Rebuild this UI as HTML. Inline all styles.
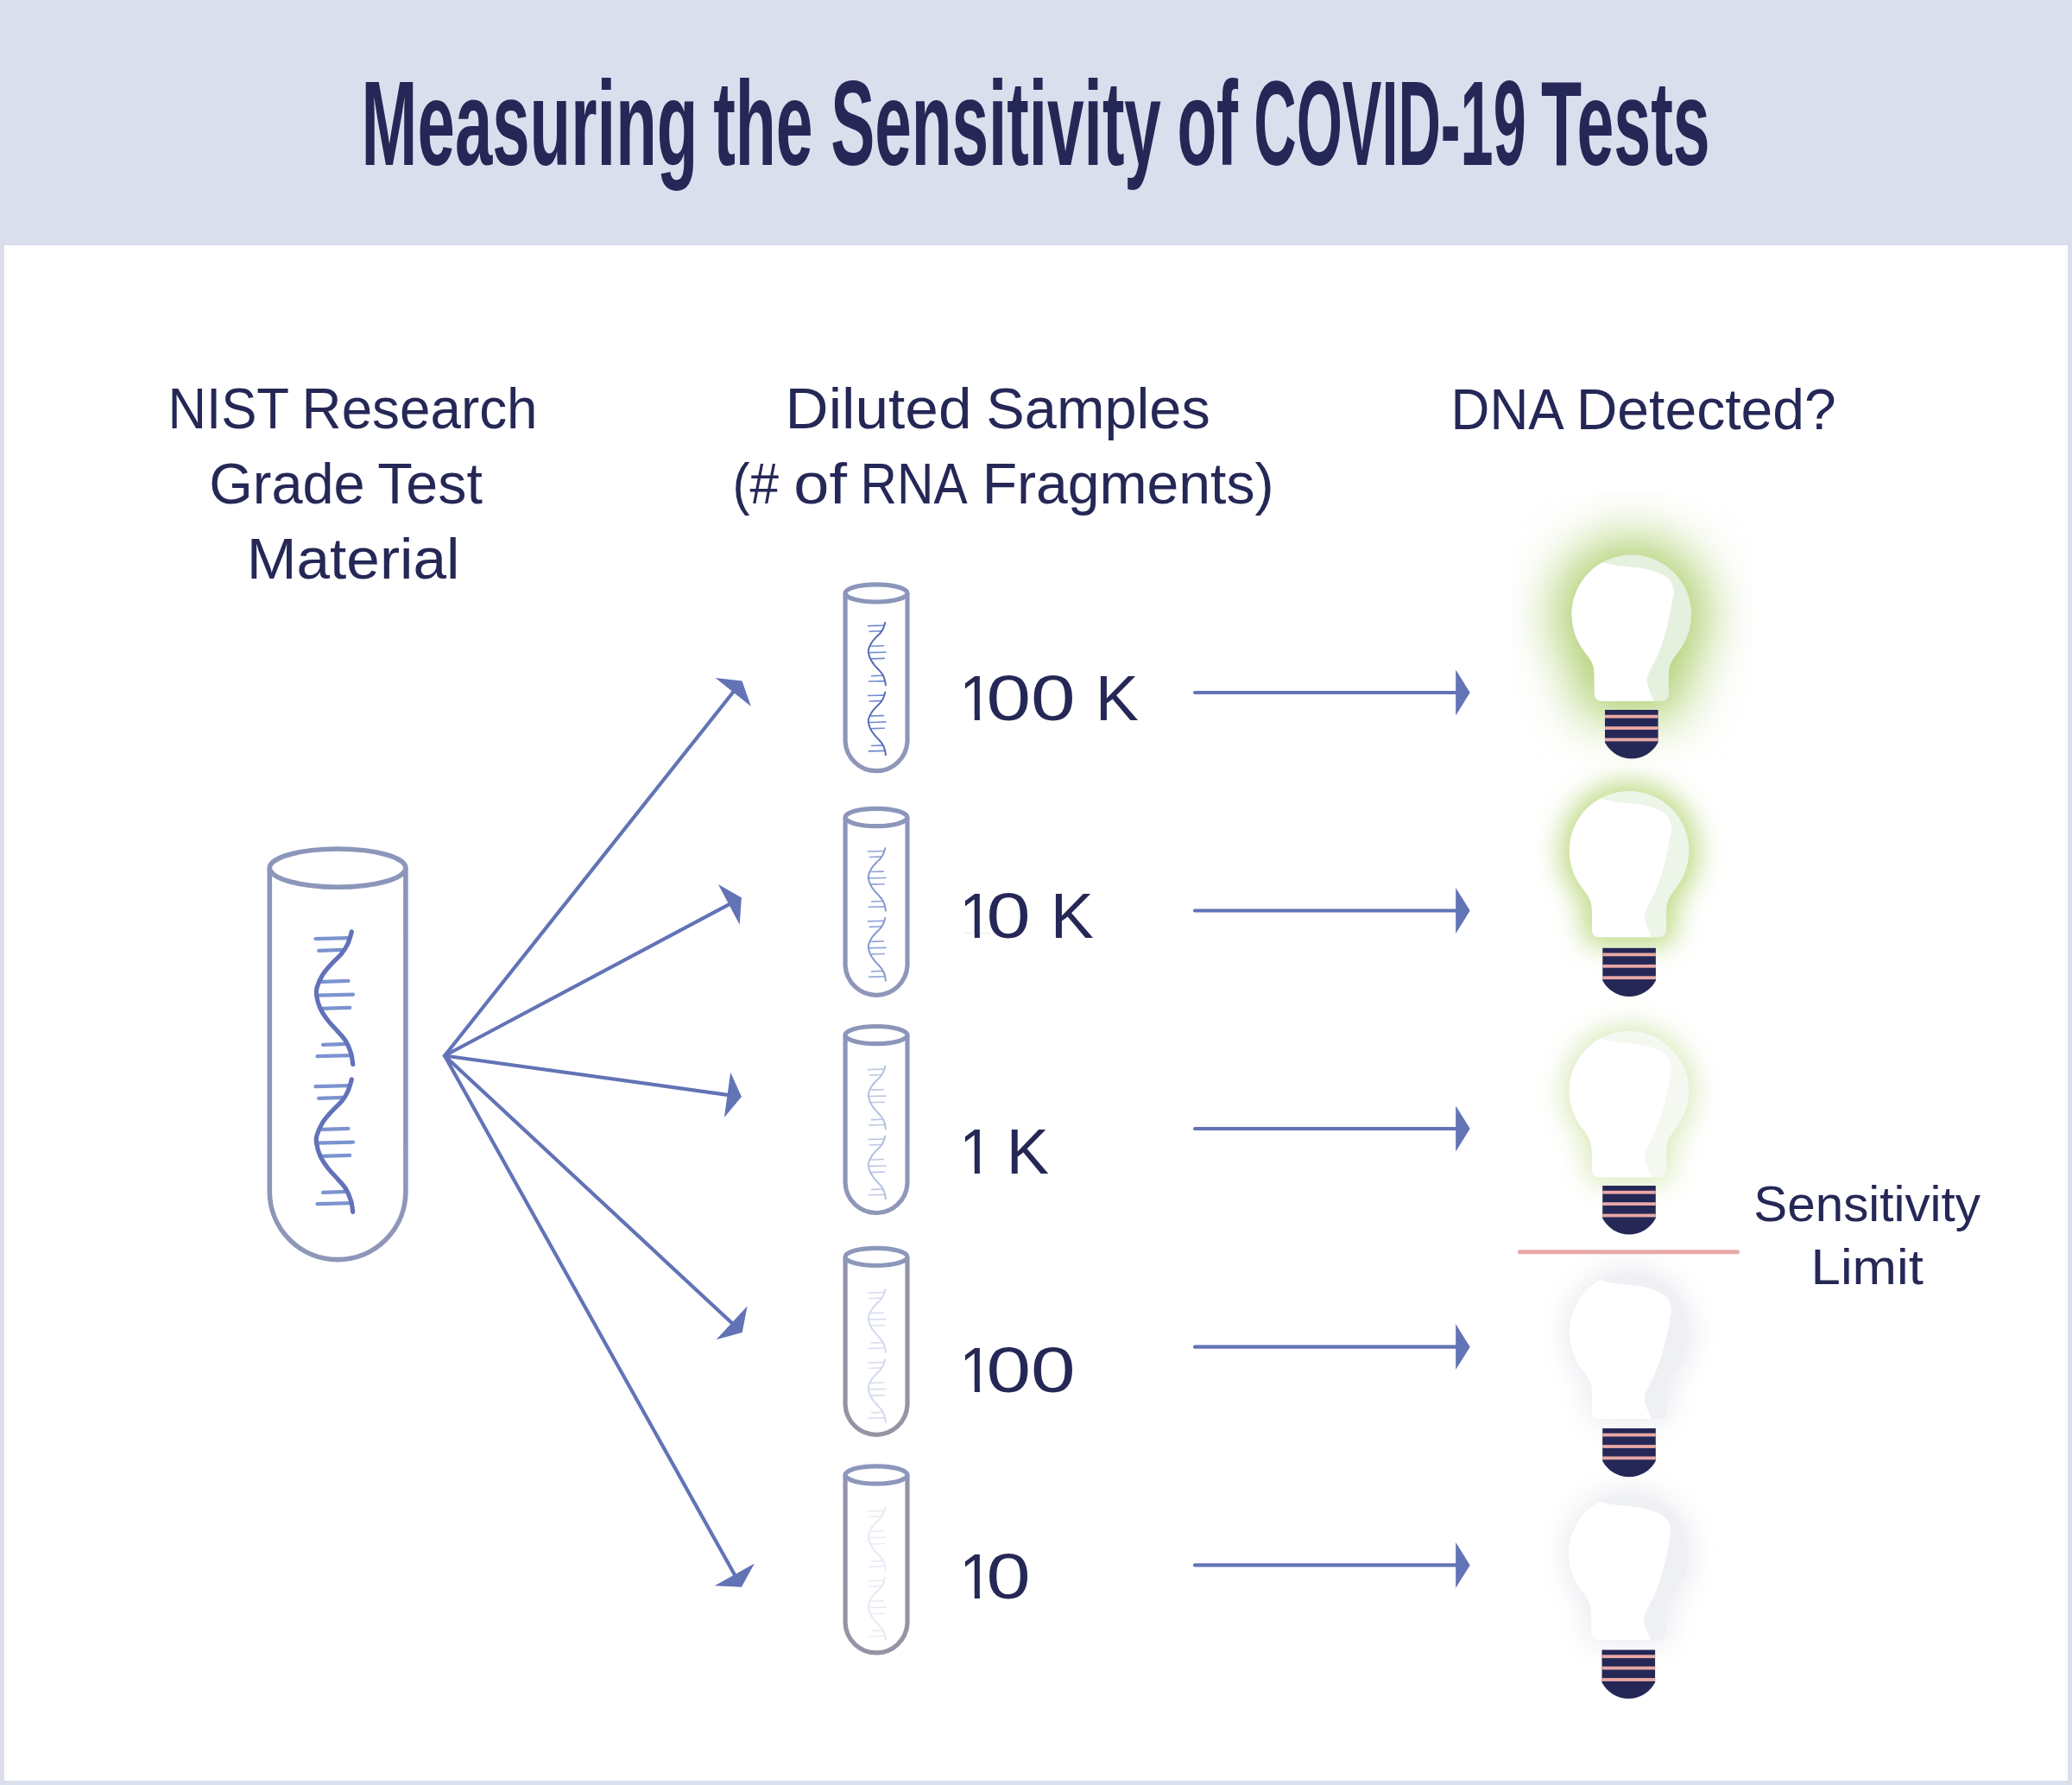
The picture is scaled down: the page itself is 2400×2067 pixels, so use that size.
<!DOCTYPE html>
<html lang="en"><head><meta charset="utf-8">
<title>Measuring the Sensitivity of COVID-19 Tests</title>
<style>
html,body{margin:0;padding:0;background:#dbdeed;}
body{width:2400px;height:2067px;overflow:hidden;}
svg{display:block;}
text{font-family:"Liberation Sans",sans-serif;fill:#252856;}
.ttl{font-weight:bold;}
</style></head><body>
<svg width="2400" height="2067" viewBox="0 0 2400 2067">
<defs>
<g id="rungs"><path d="M-1,8.1 L37.3,7.1"/><path d="M2.7,21.8 L30.4,20.8"/><path d="M6.4,57.9 L36.8,56.9"/><path d="M0,73.6 L42.4,72.6"/><path d="M5.4,88.8 L38.6,87.8"/><path d="M7.5,130.8 L35.2,129.8"/><path d="M0.9,144.2 L40.5,143.2"/></g>
<path id="strand" d="M40.7,0 C40,2.3 38.2,9.7 36.2,14 C34.2,18.3 31.8,22 28.8,25.7 C25.8,29.4 21.7,32.5 18.1,36.4 C14.6,40.3 10.4,44.6 7.5,49.2 C4.6,53.8 1.9,60 0.6,64.1 C-0.7,68.2 -0.6,69.6 0,73.7 C0.6,77.8 2,83.6 4.3,88.6 C6.6,93.6 10.5,99.1 13.9,103.5 C17.3,107.9 21.1,111.3 24.5,115.2 C27.9,119.1 31.5,122.6 34.1,126.9 C36.7,131.2 38.7,136.4 40,140.8 C41.3,145.2 41.8,151.4 42.1,153.5"/>
<path id="bulb" d="M-54.6,112.9 A69.3 69.3 0 1 1 54.6,112.9 C44.6,125.4 43.1,129.9 43.1,143 L43.1,161.6 Q43.1,170.3 34.4,170.3 L-34.4,170.3 Q-43.1,170.3 -43.1,161.6 L-43.1,143 C-43.1,129.9 -44.6,125.4 -54.6,112.9 Z"/>
<clipPath id="bulbclip"><use href="#bulb"/></clipPath>
<path id="blob" d="M-35.5,8.7 C-32.8,9.4 -26,11.7 -19.1,12.9 C-12.2,14.1 -1.4,14.7 6,15.8 C13.4,16.9 19.2,17.6 25.3,19.7 C31.4,21.8 38.8,24.7 42.7,28.4 C46.6,32.1 48,37.7 48.8,41.9 C49.6,46.1 48.9,46.1 47.5,53.5 C46.1,60.9 43.4,76 40.7,86.3 C38,96.6 34.5,106.9 31.1,115.3 C27.7,123.7 22.7,131.4 20.5,136.5 C18.3,141.6 18,142.6 18,146.1 C18,149.6 19,153.5 20.5,157.7 C22,161.8 25.8,168.8 26.8,171 L-60,171 L-80,60 L-60,0 Z"/>
<g id="base"><path d="M-30.8,180.5 L30.8,180.5 L30.8,218.3 A34.8 34.8 0 0 1 -30.8,218.3 Z" fill="#252856"/><rect x="-30.8" y="186.3" width="61.6" height="3.8" fill="#e9a8a5"/><rect x="-30.8" y="199.7" width="61.6" height="3.8" fill="#e9a8a5"/><rect x="-30.8" y="213.1" width="61.6" height="3.8" fill="#e9a8a5"/></g>
<g id="sil"><use href="#bulb"/></g>
<filter id="gl0" x="-100%" y="-60%" width="300%" height="220%"><feGaussianBlur stdDeviation="30"/></filter>
<filter id="gl1" x="-100%" y="-60%" width="300%" height="220%"><feGaussianBlur stdDeviation="15"/></filter>
<filter id="gl2" x="-100%" y="-60%" width="300%" height="220%"><feGaussianBlur stdDeviation="16"/></filter>
<filter id="gl3" x="-100%" y="-60%" width="300%" height="220%"><feGaussianBlur stdDeviation="16"/></filter>
<filter id="gl4" x="-100%" y="-60%" width="300%" height="220%"><feGaussianBlur stdDeviation="16"/></filter>
<linearGradient id="tg1" x1="0" y1="0" x2="0" y2="1"><stop offset="0" stop-color="#8c96ba"/><stop offset="1" stop-color="#8f97b9"/></linearGradient>
<linearGradient id="tg2" x1="0" y1="0" x2="0" y2="1"><stop offset="0" stop-color="#9294aa"/><stop offset="1" stop-color="#9494a4"/></linearGradient>
</defs>
<rect width="2400" height="2067" fill="#dbdeed"/>
<rect x="5" y="284" width="2390" height="1778" fill="#ffffff"/>
<text y="190.5" font-size="139.5" class="ttl"><tspan x="418.59" textLength="389.86" lengthAdjust="spacingAndGlyphs">Measuring</tspan> <tspan x="826.14" textLength="115.52" lengthAdjust="spacingAndGlyphs">the</tspan> <tspan x="962.25" textLength="382.65" lengthAdjust="spacingAndGlyphs">Sensitivity</tspan> <tspan x="1363.38" textLength="70.66" lengthAdjust="spacingAndGlyphs">of</tspan> <tspan x="1452.28" textLength="315.41" lengthAdjust="spacingAndGlyphs">COVID-19</tspan> <tspan x="1785.11" textLength="195.55" lengthAdjust="spacingAndGlyphs">Tests</tspan></text>
<text y="496.4" font-size="66"><tspan x="194.52" textLength="139.38" lengthAdjust="spacingAndGlyphs">NIST</tspan> <tspan x="349.60" textLength="272.95" lengthAdjust="spacingAndGlyphs">Research</tspan></text>
<text y="583.3" font-size="66"><tspan x="242.36" textLength="180.33" lengthAdjust="spacingAndGlyphs">Grade</tspan> <tspan x="437.17" textLength="121.76" lengthAdjust="spacingAndGlyphs">Test</tspan></text>
<text y="669.9" font-size="66"><tspan x="285.69" textLength="246.74" lengthAdjust="spacingAndGlyphs">Material</tspan></text>
<text y="496.4" font-size="66"><tspan x="909.62" textLength="215.91" lengthAdjust="spacingAndGlyphs">Diluted</tspan> <tspan x="1142.39" textLength="259.34" lengthAdjust="spacingAndGlyphs">Samples</tspan></text>
<text y="582.8" font-size="66"><tspan x="848.48" textLength="53.52" lengthAdjust="spacingAndGlyphs">(#</tspan> <tspan x="919.34" textLength="61.64" lengthAdjust="spacingAndGlyphs">of</tspan> <tspan x="996.55" textLength="120.78" lengthAdjust="spacingAndGlyphs">RNA</tspan> <tspan x="1137.63" textLength="337.92" lengthAdjust="spacingAndGlyphs">Fragments)</tspan></text>
<text y="496.6" font-size="66"><tspan x="1680.53" textLength="127.77" lengthAdjust="spacingAndGlyphs">DNA</tspan> <tspan x="1825.63" textLength="301.10" lengthAdjust="spacingAndGlyphs">Detected?</tspan></text>
<g fill="none" stroke-width="5.6"><path stroke="url(#tg1)" d="M312.3,1005.1 L312.3,1379.8 A78.8 78.8 0 0 0 469.9,1379.8 L469.9,1005.1"/><ellipse stroke="#8c96ba" cx="391.1" cy="1005.1" rx="78.8" ry="22.1"/></g>
<g transform="translate(366.6,1079) scale(1)" fill="none" stroke-linecap="round"><use href="#rungs" y="0" stroke="#7b93cf" stroke-width="4.3"/><use href="#strand" y="0" stroke="#6272b8" stroke-width="5.2"/><use href="#rungs" y="171" stroke="#7b93cf" stroke-width="4.3"/><use href="#strand" y="171" stroke="#6272b8" stroke-width="5.2"/></g>
<path d="M515,1222.5 L849.2,801.5" stroke="#6273b6" stroke-width="4.2" stroke-linecap="round" fill="none"/><path d="M859.5,788.6 L869.9,817.9 L828.6,785.1 Z" fill="#6273b6"/>
<path d="M515,1222.5 L844.3,1047.3" stroke="#6273b6" stroke-width="4.2" stroke-linecap="round" fill="none"/><path d="M858.9,1039.6 L856.7,1070.7 L831.9,1024 Z" fill="#6273b6"/>
<path d="M515,1222.5 L842.6,1267.8" stroke="#6273b6" stroke-width="4.2" stroke-linecap="round" fill="none"/><path d="M858.9,1270.1 L838.9,1294 L846.2,1241.7 Z" fill="#6273b6"/>
<path d="M515,1222.5 L847.6,1531.9" stroke="#6273b6" stroke-width="4.2" stroke-linecap="round" fill="none"/><path d="M859.7,1543.1 L829.6,1551.2 L865.6,1512.5 Z" fill="#6273b6"/>
<path d="M515,1222.5 L850.8,1823.3" stroke="#6273b6" stroke-width="4.2" stroke-linecap="round" fill="none"/><path d="M858.9,1837.7 L827.8,1836.2 L873.9,1810.4 Z" fill="#6273b6"/>
<g fill="none" stroke-width="5.2"><path stroke="url(#tg1)" d="M979.1,686.9 L979.1,858.6 A36 36 0 0 0 1051,858.6 L1051,686.9"/><ellipse stroke="#8c96ba" cx="1015" cy="686.9" rx="36" ry="10.1"/></g>
<g transform="translate(1006,720.9) scale(0.4727)" fill="none" stroke-linecap="round"><use href="#rungs" y="0" stroke="#6f8bce" stroke-width="3.4"/><use href="#strand" y="0" stroke="#566ab5" stroke-width="4.2"/><use href="#rungs" y="171" stroke="#6f8bce" stroke-width="3.4"/><use href="#strand" y="171" stroke="#566ab5" stroke-width="4.2"/></g>
<text y="833.7" font-size="74"><tspan x="1111.33" textLength="38.58" lengthAdjust="spacingAndGlyphs">1</tspan><tspan x="1142.44" textLength="103.12" lengthAdjust="spacingAndGlyphs">00</tspan> <tspan x="1268.71" textLength="50.15" lengthAdjust="spacingAndGlyphs">K</tspan></text>
<rect x="1115.61" y="827.57" width="13.16" height="7.13" fill="#fff"/><rect x="1134.90" y="827.57" width="12.62" height="7.13" fill="#fff"/>
<path d="M1384,802 L1686.2,802" stroke="#6273b6" stroke-width="4.2" stroke-linecap="round" fill="none"/><path d="M1702.7,802 L1686.2,828.4 L1686.2,775.6 Z" fill="#6273b6"/>
<g fill="none" stroke-width="5.2"><path stroke="url(#tg1)" d="M979.1,946.5 L979.1,1118.2 A36 36 0 0 0 1051,1118.2 L1051,946.5"/><ellipse stroke="#8c96ba" cx="1015" cy="946.5" rx="36" ry="10.1"/></g>
<g transform="translate(1006,982.2) scale(0.4727)" fill="none" stroke-linecap="round"><use href="#rungs" y="0" stroke="#8fa4d8" stroke-width="3.4"/><use href="#strand" y="0" stroke="#8597cf" stroke-width="4.2"/><use href="#rungs" y="171" stroke="#8fa4d8" stroke-width="3.4"/><use href="#strand" y="171" stroke="#8597cf" stroke-width="4.2"/></g>
<text y="1086.3" font-size="74"><tspan x="1111.33" textLength="38.58" lengthAdjust="spacingAndGlyphs">1</tspan><tspan x="1142.44" textLength="51.11" lengthAdjust="spacingAndGlyphs">0</tspan> <tspan x="1216.71" textLength="50.14" lengthAdjust="spacingAndGlyphs">K</tspan></text>
<rect x="1115.61" y="1080.17" width="13.16" height="7.13" fill="#fff"/><rect x="1134.90" y="1080.17" width="12.62" height="7.13" fill="#fff"/>
<path d="M1384,1054.5 L1686.2,1054.5" stroke="#6273b6" stroke-width="4.2" stroke-linecap="round" fill="none"/><path d="M1702.7,1054.5 L1686.2,1080.9 L1686.2,1028.1 Z" fill="#6273b6"/>
<g fill="none" stroke-width="5.2"><path stroke="url(#tg1)" d="M979.1,1198.6 L979.1,1370.4 A36 36 0 0 0 1051,1370.4 L1051,1198.6"/><ellipse stroke="#8c96ba" cx="1015" cy="1198.6" rx="36" ry="10.1"/></g>
<g transform="translate(1006,1234.8) scale(0.4727)" fill="none" stroke-linecap="round"><use href="#rungs" y="0" stroke="#bcc8e6" stroke-width="3.4"/><use href="#strand" y="0" stroke="#b4bfe0" stroke-width="4.2"/><use href="#rungs" y="171" stroke="#bcc8e6" stroke-width="3.4"/><use href="#strand" y="171" stroke="#b4bfe0" stroke-width="4.2"/></g>
<text y="1359" font-size="74"><tspan x="1111.33" textLength="38.58" lengthAdjust="spacingAndGlyphs">1</tspan> <tspan x="1165.65" textLength="49.24" lengthAdjust="spacingAndGlyphs">K</tspan></text>
<rect x="1115.61" y="1352.87" width="13.16" height="7.13" fill="#fff"/><rect x="1134.90" y="1352.87" width="12.62" height="7.13" fill="#fff"/>
<path d="M1384,1307 L1686.2,1307" stroke="#6273b6" stroke-width="4.2" stroke-linecap="round" fill="none"/><path d="M1702.7,1307 L1686.2,1333.4 L1686.2,1280.6 Z" fill="#6273b6"/>
<g fill="none" stroke-width="5.2"><path stroke="url(#tg2)" d="M979.1,1455.4 L979.1,1627.2 A36 36 0 0 0 1051,1627.2 L1051,1455.4"/><ellipse stroke="#8c97bb" cx="1015" cy="1455.4" rx="36" ry="10.1"/></g>
<g transform="translate(1006,1493.3) scale(0.4727)" fill="none" stroke-linecap="round"><use href="#rungs" y="0" stroke="#d8deef" stroke-width="3.4"/><use href="#strand" y="0" stroke="#d3d9ee" stroke-width="4.2"/><use href="#rungs" y="171" stroke="#d8deef" stroke-width="3.4"/><use href="#strand" y="171" stroke="#d3d9ee" stroke-width="4.2"/></g>
<text y="1611.8" font-size="74"><tspan x="1111.33" textLength="38.58" lengthAdjust="spacingAndGlyphs">1</tspan><tspan x="1142.44" textLength="103.11" lengthAdjust="spacingAndGlyphs">00</tspan></text>
<rect x="1115.61" y="1605.67" width="13.16" height="7.13" fill="#fff"/><rect x="1134.90" y="1605.67" width="12.62" height="7.13" fill="#fff"/>
<path d="M1384,1559.7 L1686.2,1559.7" stroke="#6273b6" stroke-width="4.2" stroke-linecap="round" fill="none"/><path d="M1702.7,1559.7 L1686.2,1586.1 L1686.2,1533.3 Z" fill="#6273b6"/>
<g fill="none" stroke-width="5.2"><path stroke="url(#tg2)" d="M979.1,1708 L979.1,1879.8 A36 36 0 0 0 1051,1879.8 L1051,1708"/><ellipse stroke="#8c97bb" cx="1015" cy="1708" rx="36" ry="10.1"/></g>
<g transform="translate(1006,1746) scale(0.4727)" fill="none" stroke-linecap="round"><use href="#rungs" y="0" stroke="#e9ecf6" stroke-width="3.4"/><use href="#strand" y="0" stroke="#e6e9f5" stroke-width="4.2"/><use href="#rungs" y="171" stroke="#e9ecf6" stroke-width="3.4"/><use href="#strand" y="171" stroke="#e6e9f5" stroke-width="4.2"/></g>
<text y="1850.9" font-size="74"><tspan x="1111.33" textLength="38.58" lengthAdjust="spacingAndGlyphs">1</tspan><tspan x="1142.44" textLength="51.18" lengthAdjust="spacingAndGlyphs">0</tspan></text>
<rect x="1115.61" y="1844.77" width="13.16" height="7.13" fill="#fff"/><rect x="1134.90" y="1844.77" width="12.62" height="7.13" fill="#fff"/>
<path d="M1384,1812.4 L1686.2,1812.4" stroke="#6273b6" stroke-width="4.2" stroke-linecap="round" fill="none"/><path d="M1702.7,1812.4 L1686.2,1838.8 L1686.2,1786 Z" fill="#6273b6"/>
<clipPath id="gc0"><rect x="1749.3" y="570.3" width="281" height="312.4"/></clipPath>
<g clip-path="url(#gc0)"><g transform="translate(1889.8,641.5)"><use href="#sil" fill="#adcf6d" stroke="#adcf6d" stroke-width="40" stroke-linejoin="round" filter="url(#gl0)"/></g></g>
<clipPath id="gc1"><rect x="1776.8" y="874" width="220.6" height="284.5"/></clipPath>
<g clip-path="url(#gc1)"><g transform="translate(1887.1,915)"><use href="#sil" fill="#c2dc8a" stroke="#c2dc8a" stroke-width="22" stroke-linejoin="round" filter="url(#gl1)"/></g></g>
<g><g transform="translate(1887,1193)"><use href="#sil" fill="#d8e8b6" stroke="#d8e8b6" stroke-width="12" stroke-linejoin="round" filter="url(#gl2)"/></g></g>
<g><g transform="translate(1887,1472.8)"><use href="#sil" fill="#ebecf1" stroke="#ebecf1" stroke-width="12" stroke-linejoin="round" filter="url(#gl3)"/></g></g>
<g><g transform="translate(1886.3,1729)"><use href="#sil" fill="#ebecf1" stroke="#ebecf1" stroke-width="12" stroke-linejoin="round" filter="url(#gl4)"/></g></g>
<g transform="translate(1889.8,641.5)"><use href="#bulb" fill="#e6f0de"/><use href="#blob" fill="#ffffff" clip-path="url(#bulbclip)"/><use href="#base" y="0"/></g>
<g transform="translate(1887.1,915)"><use href="#bulb" fill="#edf4e8"/><use href="#blob" fill="#ffffff" clip-path="url(#bulbclip)"/><use href="#base" y="2.2"/></g>
<g transform="translate(1887,1193)"><use href="#bulb" fill="#f4f8f0"/><use href="#blob" fill="#ffffff" clip-path="url(#bulbclip)"/><use href="#base" y="-0.5"/></g>
<g transform="translate(1887,1472.8)"><use href="#bulb" fill="#eff0f3"/><use href="#blob" fill="#ffffff" clip-path="url(#bulbclip)"/><use href="#base" y="0.6"/></g>
<g transform="translate(1886.3,1729)"><use href="#bulb" fill="#eff0f3"/><use href="#blob" fill="#ffffff" clip-path="url(#bulbclip)"/><use href="#base" y="1.0"/></g>
<path d="M1760.4,1449.7 L2012.5,1449.7" stroke="#e8aaa7" stroke-width="5" stroke-linecap="round" fill="none"/>
<text y="1413.5" font-size="57"><tspan x="2031.35" textLength="262.61" lengthAdjust="spacingAndGlyphs">Sensitivity</tspan></text>
<text y="1486.8" font-size="57"><tspan x="2097.57" textLength="130.33" lengthAdjust="spacingAndGlyphs">Limit</tspan></text>
</svg></body></html>
